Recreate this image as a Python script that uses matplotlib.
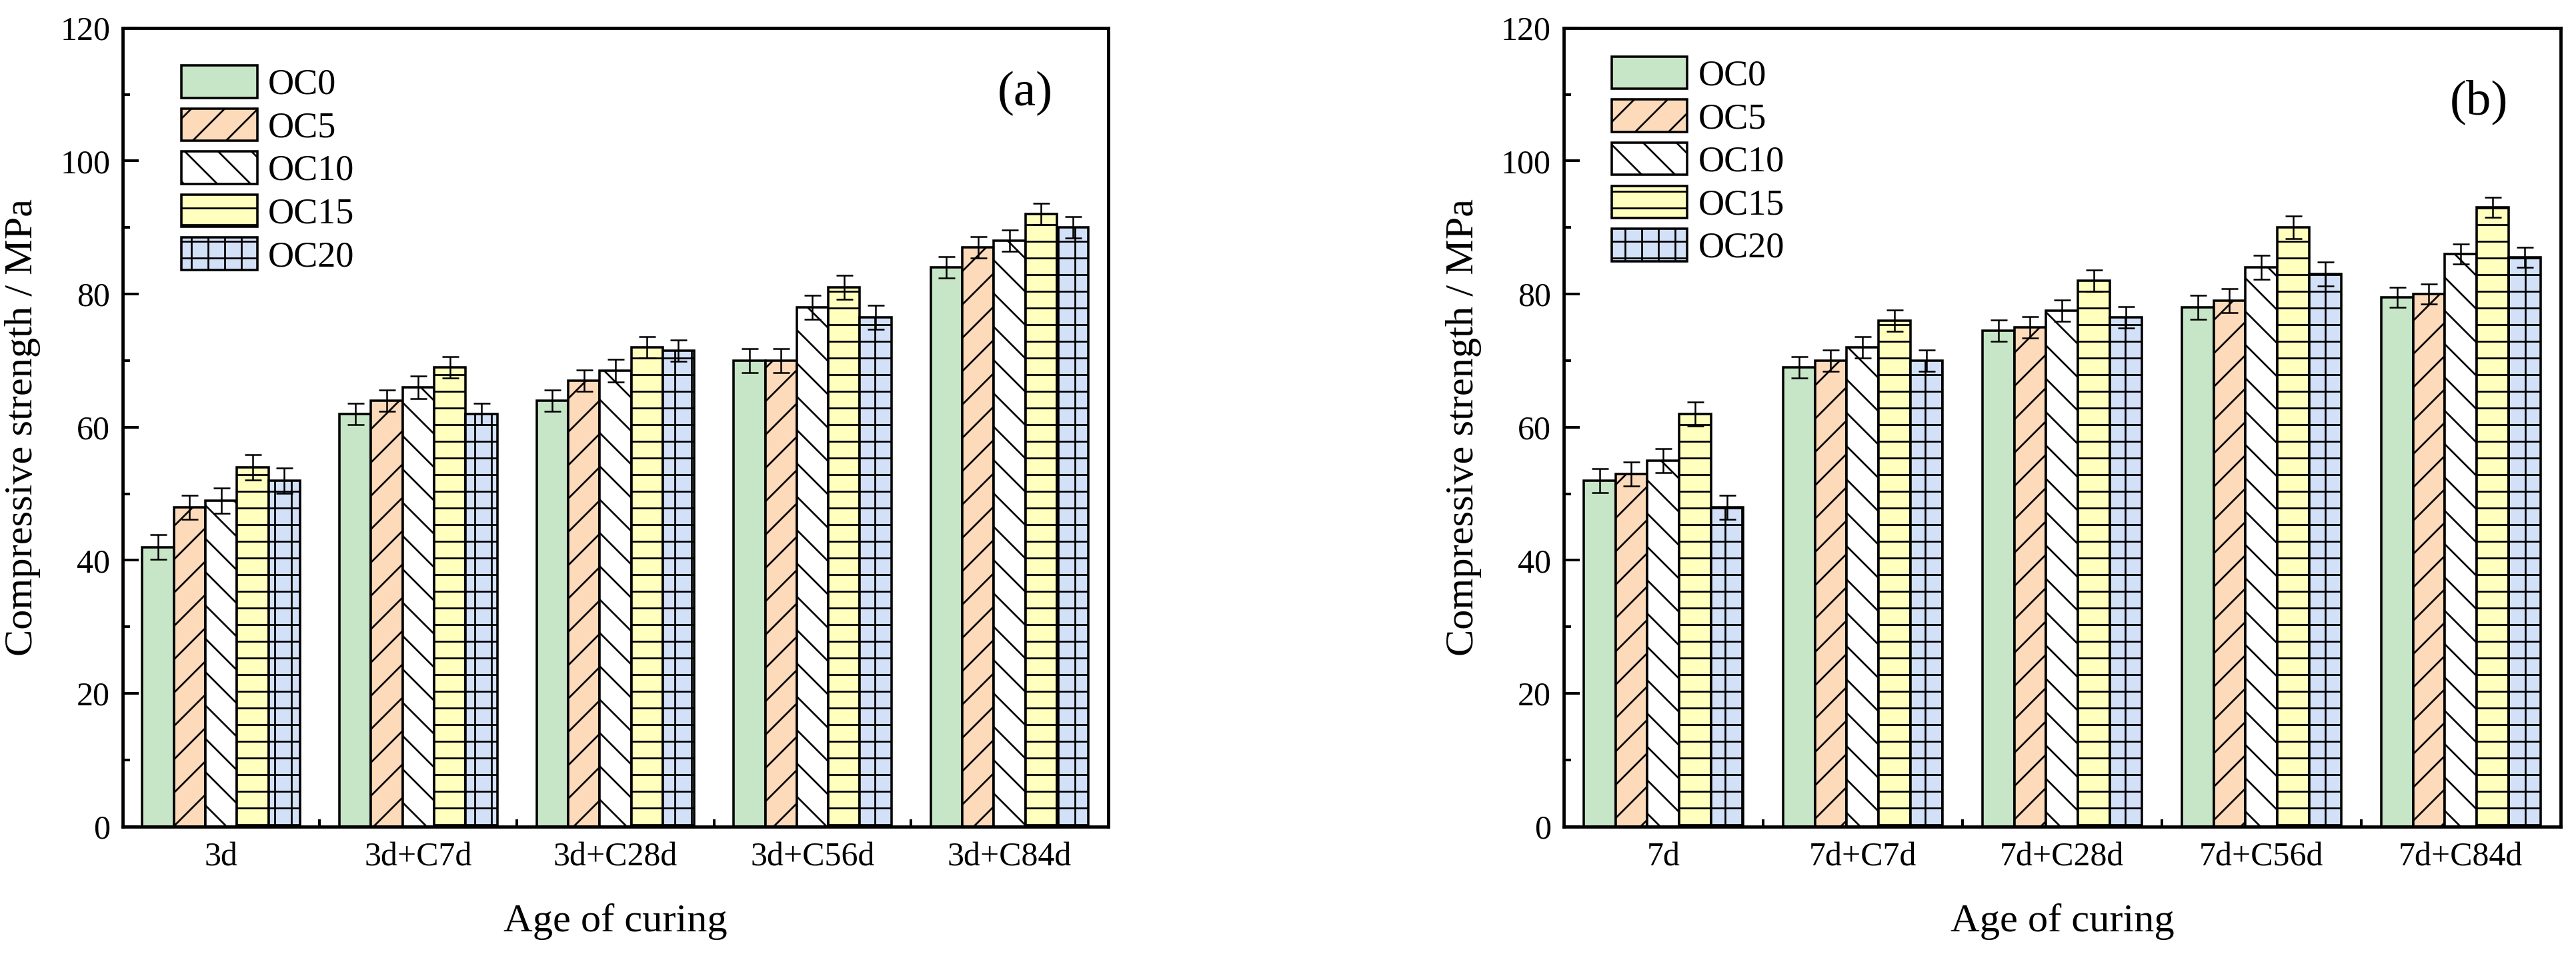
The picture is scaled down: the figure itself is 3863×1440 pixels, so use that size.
import numpy as np
import matplotlib
matplotlib.use("Agg")
import matplotlib.pyplot as plt
from matplotlib.ticker import MultipleLocator, FixedLocator

# --- dados ---
series = ["OC0", "OC5", "OC10", "OC15", "OC20"]

ages_a = ["3d", "3d+C7d", "3d+C28d", "3d+C56d", "3d+C84d"]
oc0_a = [42, 62, 64, 70, 84]
oc5_a = [48, 64, 67, 70, 87]
oc10_a = [49, 66, 68.5, 78, 88]
oc15_a = [54, 69, 72, 81, 92]
oc20_a = [52, 62, 71.5, 76.5, 90]
err_a = [
    [1.9, 1.6, 1.6, 1.8, 1.6],
    [1.8, 1.6, 1.6, 1.8, 1.6],
    [1.9, 1.7, 1.7, 1.8, 1.6],
    [1.9, 1.6, 1.6, 1.8, 1.6],
    [1.9, 1.6, 1.6, 1.8, 1.6],
]

ages_b = ["7d", "7d+C7d", "7d+C28d", "7d+C56d", "7d+C84d"]
oc0_b = [52, 69, 74.5, 78, 79.5]
oc5_b = [53, 70, 75, 79, 80]
oc10_b = [55, 72, 77.5, 84, 86]
oc15_b = [62, 76, 82, 90, 93]
oc20_b = [48, 70, 76.5, 83, 85.5]
err_b = [
    [1.8, 1.6, 1.6, 1.8, 1.5],
    [1.8, 1.6, 1.6, 1.8, 1.5],
    [1.8, 1.6, 1.6, 1.8, 1.5],
    [1.8, 1.6, 1.6, 1.7, 1.5],
    [1.8, 1.6, 1.6, 1.8, 1.5],
]

colors = ["#C7E6C7", "#FDDABA", "#FFFFFF", "#FFFFBE", "#D3E1F8"]
hatches = ["", "/", "\\", "-", "+"]

plt.rcParams["font.family"] = "serif"
plt.rcParams["font.serif"] = ["Liberation Serif", "DejaVu Serif"]
plt.rcParams["hatch.linewidth"] = 1.3

DPI = 150
fig = plt.figure(figsize=(3863 / DPI, 1440 / DPI), dpi=DPI)


def painel(ax, ages, valores, erros, rotulo, leg_pos):
    x = np.arange(len(ages))
    w = 0.16
    for i, nome in enumerate(series):
        pos = x + (i - 2) * w
        ax.bar(pos, valores[i], width=w, color=colors[i], hatch=hatches[i],
               edgecolor="black", linewidth=1.7, label=nome, zorder=2)
        ax.errorbar(pos, valores[i], yerr=erros[i], fmt="none", ecolor="black",
                    elinewidth=1.2, capsize=6, capthick=1.2, zorder=3)
    ax.set_xlim(-0.5, len(ages) - 0.5)
    ax.set_ylim(0, 120)
    ax.set_xticks(x)
    ax.set_xticklabels(ages)
    ax.xaxis.set_minor_locator(FixedLocator(x[:-1] + 0.5))
    ax.yaxis.set_major_locator(MultipleLocator(20))
    ax.yaxis.set_minor_locator(MultipleLocator(10))
    ax.tick_params(which="both", direction="in", width=1.9, labelsize=24,
                   top=False, right=False)
    ax.tick_params(which="major", length=11.5)
    ax.tick_params(which="minor", length=5.3)
    ax.tick_params(axis="x", pad=11)
    ax.tick_params(axis="y", pad=9)
    for s in ax.spines.values():
        s.set_linewidth(2.3)
    ax.set_xlabel("Age of curing", fontsize=29, labelpad=22)
    ax.set_ylabel("Compressive strength / MPa", fontsize=29, labelpad=14)
    ax.legend(loc="upper left", bbox_to_anchor=leg_pos, frameon=False,
              fontsize=26, handlelength=2.1, handleheight=1.0,
              labelspacing=0.18, handletextpad=0.3, borderpad=0,
              borderaxespad=0)
    ax.text(rotulo[1], rotulo[2], rotulo[0], transform=ax.transAxes,
            fontsize=36, ha="center", va="center")


ax1 = fig.add_axes([0.0476, 0.139, 0.3826, 0.832])
painel(ax1, ages_a, [oc0_a, oc5_a, oc10_a, oc15_a, oc20_a], err_a,
       ("(a)", 0.916, 0.918), (0.0595, 0.953))

ax2 = fig.add_axes([0.607, 0.139, 0.387, 0.832])
painel(ax2, ages_b, [oc0_b, oc5_b, oc10_b, oc15_b, oc20_b], err_b,
       ("(b)", 0.918, 0.907), (0.048, 0.964))

fig.savefig("out.png", dpi=DPI)
